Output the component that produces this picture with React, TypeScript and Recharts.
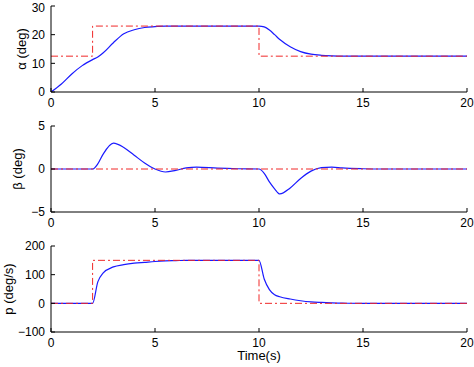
import { LineChart, Line, XAxis, YAxis } from "recharts";

// sample times for the simulated responses (s)
const times = [
  0, 0.5, 1, 1.5, 2, 2.25, 2.5, 3, 3.5, 4, 4.5, 5, 5.5, 6, 6.5, 7, 8, 9, 10,
  10.25, 10.5, 10.75, 11, 11.5, 12, 12.5, 13, 13.5, 14, 15, 16, 18, 20,
];
const alpha = [
  0, 2.8, 6.3, 9.2, 11.3, 12.2, 13.6, 17.2, 20.3, 21.7, 22.5, 22.8, 23, 23, 23,
  23, 23, 23, 23, 22.7, 21.6, 20.0, 18.3, 15.8, 14.1, 13.2, 12.8, 12.6, 12.5,
  12.5, 12.5, 12.5, 12.5,
];
const beta = [
  0, 0, 0, 0, 0, 0.6, 1.7, 3.0, 2.5, 1.6, 0.7, 0, -0.35, -0.15, 0.12, 0.22, 0.1,
  0.03, 0, -0.5, -1.5, -2.3, -2.9, -2.2, -1.1, -0.25, 0.15, 0.22, 0.12, 0.03,
  0, 0, 0,
];
const p = [
  0, 0, 0, 0, 0, 75, 105, 127, 135, 140, 143, 146, 148, 149, 150, 150, 150, 150,
  150, 85, 48, 30, 23, 15, 9, 5, 3, 1.5, 0.5, 0, 0, 0, 0,
];

// commanded (reference) signals
const refTime = [0, 2, 2, 10, 10, 20];
const alphaRef = [12.5, 12.5, 23, 23, 12.5, 12.5];
const betaRef = [0, 0, 0, 0, 0, 0];
const pRef = [0, 0, 150, 150, 0, 0];

const xTicks = [0, 5, 10, 15, 20];
const alphaTicks = [0, 10, 20, 30];
const betaTicks = [-5, 0, 5];
const pTicks = [-100, 0, 100, 200];

const FONT = "'Liberation Sans', Arial, Helvetica, sans-serif";
const W = 474;

const toRows = (xs: number[], ys: number[]) =>
  xs.map((t, i) => ({ t, v: ys[i] }));

const fmt = (v: number) => String(v).replace("-", "\u2212");

interface PanelProps {
  top: number;
  height: number;
  marginTop: number;
  xAxisHeight: number;
  sim: number[];
  ref: number[];
  domain: [number, number];
  yTicks: number[];
  xLabel?: string;
}

const Panel = ({
  top,
  height,
  marginTop,
  xAxisHeight,
  sim,
  ref,
  domain,
  yTicks,
  xLabel,
}: PanelProps) => {
  const tickStyle = { fill: "#000", fontSize: 12, fontFamily: FONT };
  return (
    <div style={{ position: "absolute", left: 0, top }}>
      <LineChart
        width={W}
        height={height}
        margin={{ top: marginTop, right: 7, bottom: 0, left: 0 }}
      >
        <XAxis
          xAxisId="b"
          dataKey="t"
          type="number"
          domain={[0, 20]}
          ticks={xTicks}
          height={xAxisHeight}
          stroke="#000"
          tickSize={-4}
          tickMargin={10}
          tick={tickStyle}
          allowDataOverflow
          label={
            xLabel
              ? {
                  value: xLabel,
                  position: "insideBottom",
                  offset: 7,
                  fill: "#000",
                  fontSize: 13,
                  fontFamily: FONT,
                }
              : undefined
          }
        />
        <XAxis
          xAxisId="t"
          orientation="top"
          type="number"
          domain={[0, 20]}
          ticks={xTicks}
          height={0}
          stroke="#000"
          tickSize={-4}
          tickFormatter={() => ""}
          allowDataOverflow
        />
        <YAxis
          yAxisId="l"
          type="number"
          domain={domain}
          ticks={yTicks}
          width={51}
          stroke="#000"
          tickSize={-4}
          tickMargin={10}
          tick={tickStyle}
          tickFormatter={fmt}
          allowDataOverflow
        />
        <YAxis
          yAxisId="r"
          orientation="right"
          type="number"
          domain={domain}
          ticks={yTicks}
          width={0}
          stroke="#000"
          tickSize={-4}
          tickFormatter={() => ""}
          allowDataOverflow
        />
        <Line
          xAxisId="b"
          yAxisId="l"
          data={toRows(times, sim)}
          dataKey="v"
          type="monotone"
          stroke="#1a1aff"
          strokeWidth={1.2}
          dot={false}
          isAnimationActive={false}
        />
        <Line
          xAxisId="b"
          yAxisId="l"
          data={toRows(refTime, ref)}
          dataKey="v"
          type="linear"
          stroke="#f02828"
          strokeWidth={1}
          strokeDasharray="7 3 2 3"
          dot={false}
          isAnimationActive={false}
        />
      </LineChart>
    </div>
  );
};

const YLabel = ({ text, x, y }: { text: string; x: number; y: number }) => (
  <div
    style={{
      position: "absolute",
      left: x,
      top: y,
      transform: "translate(-50%, -50%) rotate(-90deg)",
      fontFamily: FONT,
      fontSize: 13,
      whiteSpace: "nowrap",
      color: "#000",
    }}
  >
    {text}
  </div>
);

export default function App() {
  return (
    <div
      style={{
        position: "absolute",
        left: 0,
        top: 0,
        width: W,
        height: 367,
        background: "#fff",
        overflow: "hidden",
      }}
    >
      <Panel
        top={0}
        height={110}
        marginTop={6}
        xAxisHeight={18}
        sim={alpha}
        ref={alphaRef}
        domain={[0, 30]}
        yTicks={alphaTicks}
      />
      <Panel
        top={110}
        height={120}
        marginTop={16}
        xAxisHeight={18}
        sim={beta}
        ref={betaRef}
        domain={[-5, 5]}
        yTicks={betaTicks}
      />
      <Panel
        top={230}
        height={137}
        marginTop={16}
        xAxisHeight={35}
        sim={p}
        ref={pRef}
        domain={[-100, 200]}
        yTicks={pTicks}
        xLabel="Time(s)"
      />
      <YLabel text="α (deg)" x={21} y={49} />
      <YLabel text="β (deg)" x={17} y={169} />
      <YLabel text="p (deg/s)" x={8} y={289} />
    </div>
  );
}
